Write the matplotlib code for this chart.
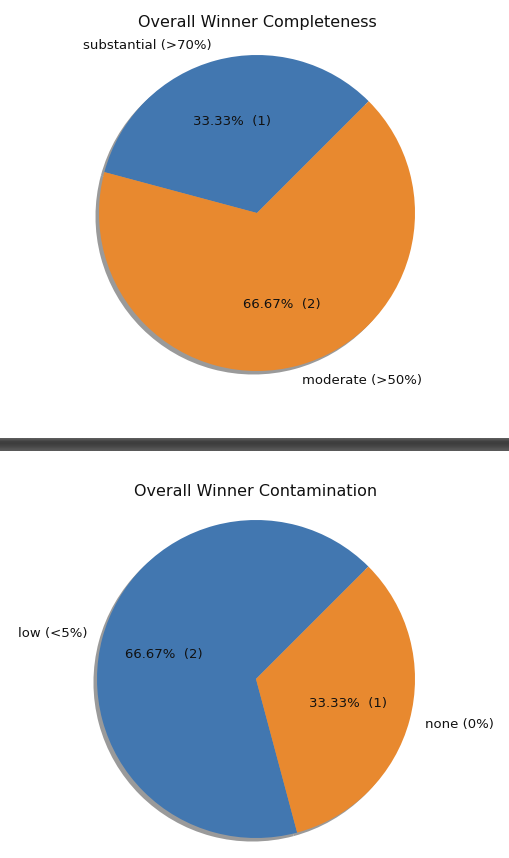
import matplotlib
matplotlib.use("Agg")
import matplotlib.pyplot as plt
import numpy as np

# Data
comp_labels = ["substantial (>70%)", "moderate (>50%)"]
comp_counts = [1, 2]
cont_labels = ["low (<5%)", "none (0%)"]
cont_counts = [2, 1]
titles = ["Overall Winner Completeness", "Overall Winner Contamination"]

colors = ["#4277B0", "#E8892F"]

W, H = 509, 858
fig = plt.figure(figsize=(W / 100, H / 100), dpi=100)


def make_fmt(counts):
    total = sum(counts)

    def fmt(p):
        n = int(round(p * total / 100.0))
        return f"{p:.2f}%  ({n})"
    return fmt


def add_pie(cx, cy, r, labels, counts, title, title_y):
    size = 2.5 * r
    ax = fig.add_axes([(cx - size / 2) / W, (H - cy - size / 2) / H, size / W, size / H])
    ax.pie(counts, labels=labels, colors=colors, startangle=45,
           shadow=dict(ox=-0.016, oy=-0.016, facecolor="#9a9a9a",
                       edgecolor="none", alpha=1.0),
           autopct=make_fmt(counts), pctdistance=0.6, labeldistance=1.1,
           textprops=dict(fontsize=9.5, color="#111111"))
    ax.set_aspect("equal")
    fig.text(cx / W, 1 - title_y / H, title, ha="center", va="center", fontsize=11.5,
             color="#111111")
    return ax


add_pie(257, 213, 158, comp_labels, comp_counts, titles[0], 22)
add_pie(256, 679, 159, cont_labels, cont_counts, titles[1], 492)

# separator bar
bar_ax = fig.add_axes([0, 1 - 451 / H, 1, 13 / H])
grad = np.array([0.36, 0.30, 0.25, 0.24, 0.25, 0.27, 0.30, 0.33, 0.35])[:, None]
bar_ax.imshow(np.repeat(grad, 10, axis=1), cmap="gray", vmin=0, vmax=1,
              aspect="auto", interpolation="bilinear")
bar_ax.set_axis_off()

fig.savefig("out.png", dpi=100)
